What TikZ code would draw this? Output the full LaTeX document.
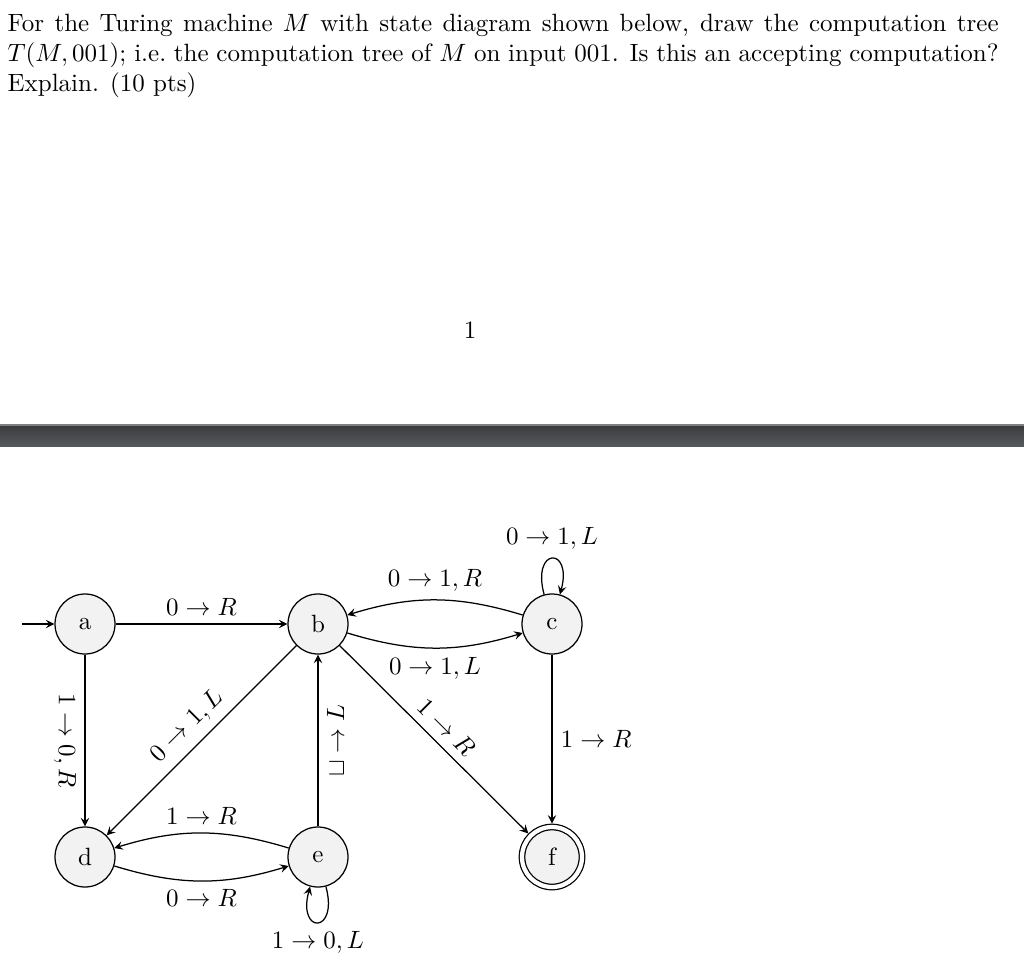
\documentclass[tikz,border=0pt]{standalone}
\usepackage{xcolor}
\usepackage{amsmath, amssymb}
\usepackage{tikz}

\definecolor{barTop}{RGB}{58,59,61}
\definecolor{barBottom}{RGB}{86,89,92}
\definecolor{barEdge}{RGB}{128,128,128}

\tikzset{
  tmstate/.style = {circle, draw, fill=gray!10, minimum size=24pt, inner sep=0pt},
  tmfinal/.style = {tmstate, double, double distance=1.7pt, outer sep=1.35pt},
}

\begin{document}
\begin{tikzpicture}[x=0.4pt, y=0.4pt, >=stealth, line width=0.5pt]
  \useasboundingbox (0,0) rectangle (1024,-971);
  % question and page number
  \node[anchor=north west, inner sep=0pt, text width=396.4pt, align=justify] (question) at (7,-14)
    {For the Turing machine $M$ with state diagram shown below, draw the computation tree\linebreak
     $T(M,001)$; i.e.\ the computation tree of $M$ on input 001.  Is this an accepting computation?\linebreak
     Explain. (10 pts)};
  \node (pagenum) at (470,-330) {1};
  % gray bar
  \shade[top color=barTop, bottom color=barBottom] (0,-425) rectangle (1024,-446);
  \fill[barEdge] (0,-424) rectangle (1024,-426);
  % states
  \node[tmstate] (a) at (85,-624) {a};
  \node[tmstate] (b) at (318,-624) {b};
  \node[tmstate] (c) at (552,-624) {c};
  \node[tmstate] (d) at (85,-857) {d};
  \node[tmstate] (e) at (318,-857) {e};
  \node[tmfinal] (f) at (552,-857) {f};
  \coordinate (start) at (22,-624);
  % transitions
  \draw[->] (start) -- (a);
  \draw[->] (a) -- node[above]{$0 \rightarrow R$} (b);
  \draw[->] (c) to[bend right=17] node[above]{$0 \rightarrow 1, R$} (b);
  \draw[->] (b) to[bend right=17] node[below]{$0 \rightarrow 1, L$} (c);
  \draw[->] (c) to[loop above] node[above]{$0 \rightarrow 1, L$} (c);
  \draw[->] (a) -- node[rotate=-90, below]{$1 \rightarrow 0, R$} (d);
  \draw[->] (b) -- node[above, sloped]{$0 \rightarrow 1, L$} (d);
  \draw[->] (e) -- node[rotate=90, below]{$\sqcup \rightarrow L$} (b);
  \draw[->] (b) -- node[above, sloped]{$1 \rightarrow R$} (f);
  \draw[->] (c) -- node[right]{$1 \rightarrow R$} (f);
  \draw[->] (e) to[bend right=17] node[above]{$1 \rightarrow R$} (d);
  \draw[->] (d) to[bend right=17] node[below]{$0 \rightarrow R$} (e);
  \draw[->] (e) to[loop below] node[below]{$1 \rightarrow 0, L$} (e);
\end{tikzpicture}
\end{document}
